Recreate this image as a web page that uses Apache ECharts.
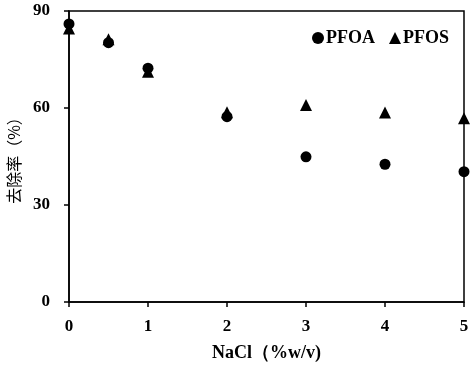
<!DOCTYPE html>
<html><head><meta charset="utf-8">
<script src="https://cdn.jsdelivr.net/npm/echarts@6/dist/echarts.min.js"></script>
<style>html,body{margin:0;padding:0;background:#fff}#c{width:474px;height:365px}</style>
</head><body><div id="c"></div>
<script>
const nacl = [0, 0.5, 1, 2, 3, 4, 5];
const pfoa = [86.0, 80.2, 72.3, 57.3, 44.9, 42.6, 40.3];
const pfos = [84.6, 81.3, 71.2, 58.7, 60.9, 58.6, 56.8];
const xName = 'NaCl（%w/v)';
const yName = '去除率（%）';
const serif = '"Liberation Serif","DejaVu Serif",serif';
const chart = echarts.init(document.getElementById('c'));
chart.setOption({
  animation: false,
  backgroundColor: '#fff',
  grid: {left: 69, right: 10, top: 11, bottom: 63, show: true, borderColor: '#000', borderWidth: 1.5,
         containLabel: false, outerBoundsMode: 'none'},
  legend: {
    left: 307, top: 24, itemWidth: 12, itemHeight: 12, itemGap: 14,
    textStyle: {fontFamily: serif, fontWeight: 'bold', fontSize: 18, color: '#000', padding: [0, 0, 0, -3]},
    data: [{name: 'PFOA', icon: 'circle'}, {name: 'PFOS', icon: 'triangle'}]
  },
  xAxis: {
    type: 'value', min: 0, max: 5, interval: 1,
    name: xName, nameLocation: 'middle', nameGap: 42,
    nameTextStyle: {fontFamily: serif, fontWeight: 'bold', fontSize: 18, color: '#000'},
    axisLine: {lineStyle: {color: '#000', width: 1.5}},
    axisTick: {show: true, length: 5, lineStyle: {color: '#000', width: 1.5}},
    axisLabel: {fontFamily: serif, fontWeight: 'bold', fontSize: 17, color: '#000', margin: 16},
    splitLine: {show: false}
  },
  yAxis: {
    type: 'value', min: 0, max: 90, interval: 30,
    name: yName, nameLocation: 'middle', nameGap: 47, nameRotate: 90,
    nameTextStyle: {fontFamily: '"Noto Sans CJK SC",sans-serif', fontSize: 16, color: '#000'},
    axisLine: {show: true, lineStyle: {color: '#000', width: 1.5}},
    axisTick: {show: true, length: 5, lineStyle: {color: '#000', width: 1.5}},
    axisLabel: {fontFamily: serif, fontWeight: 'bold', fontSize: 17, color: '#000', margin: 19},
    splitLine: {show: false}
  },
  series: [
    {name: 'PFOA', type: 'scatter', symbol: 'circle', symbolSize: 11, itemStyle: {color: '#000', opacity: 1},
     data: nacl.map((x, i) => [x, pfoa[i]])},
    {name: 'PFOS', type: 'scatter', symbol: 'triangle', symbolSize: 12, itemStyle: {color: '#000', opacity: 1},
     data: nacl.map((x, i) => [x, pfos[i]])}
  ]
});
</script></body></html>
